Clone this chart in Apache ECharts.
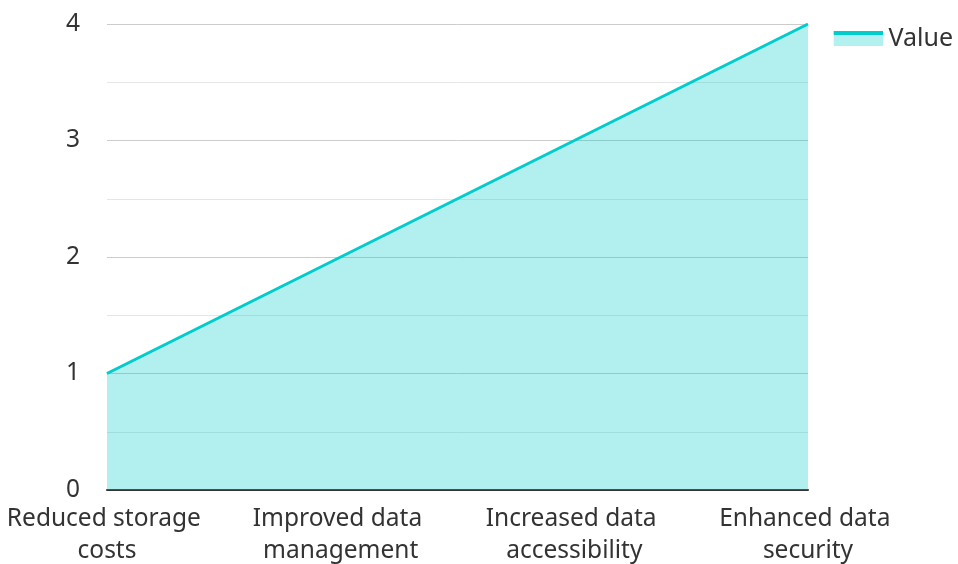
<!DOCTYPE html>
<html>
<head>
<meta charset="utf-8">
<script src="https://cdn.jsdelivr.net/npm/echarts@6/dist/echarts.min.js"></script>
<style>html,body{margin:0;padding:0;background:#fff;}#c{width:958px;height:564px;}</style>
</head>
<body>
<div id="c"></div>
<script>
const categories = ["Reduced storage costs", "Improved data management", "Increased data accessibility", "Enhanced data security"];
const values = [1, 2, 3, 4];
const seriesName = "Value";

const iconSvg = '<svg xmlns="http://www.w3.org/2000/svg" width="50" height="15" viewBox="0 0 50 15">' +
  '<rect x="0" y="0" width="50" height="15" fill="#b3f0f0"/>' +
  '<rect x="0" y="0" width="50" height="4" fill="#00cccc"/></svg>';
const iconUri = 'image://data:image/svg+xml;base64,' + btoa(iconSvg);

const chart = echarts.init(document.getElementById('c'));
const font = "'Noto Sans', sans-serif";
chart.setOption({
  animation: false,
  textStyle: { fontFamily: font },
  legend: {
    right: 0, top: 21,
    itemWidth: 50, itemHeight: 15, itemGap: 10,
    textStyle: { fontSize: 25, color: '#333', fontFamily: font },
    data: [{ name: seriesName, icon: iconUri }]
  },
  grid: { left: 107, right: 150, top: 24, bottom: 74, containLabel: false, outerBoundsMode: 'none' },
  xAxis: {
    type: 'category',
    data: categories,
    boundaryGap: false,
    axisLine: { lineStyle: { color: '#333', width: 2 } },
    axisTick: { show: false },
    axisLabel: {
      fontSize: 24.5, color: '#333', fontFamily: font,
      interval: 0, width: 220, overflow: 'break', lineHeight: 32, margin: 13
    },
    splitLine: { show: false }
  },
  yAxis: {
    type: 'value',
    min: 0, max: 4, interval: 1,
    axisLine: { show: false },
    axisTick: { show: false },
    axisLabel: { fontSize: 24.5, color: '#333', fontFamily: font, margin: 27 },
    splitLine: { lineStyle: { color: '#cccccc', width: 1 } },
    minorTick: { show: false, splitNumber: 2 },
    minorSplitLine: { show: true, lineStyle: { color: '#e6e6e6', width: 1 } }
  },
  series: [{
    name: seriesName,
    type: 'line',
    data: values,
    symbol: 'none',
    lineStyle: { color: '#00cccc', width: 3 },
    itemStyle: { color: '#00cccc' },
    areaStyle: { color: '#00cccc', opacity: 0.3 }
  }]
});
</script>
</body>
</html>
